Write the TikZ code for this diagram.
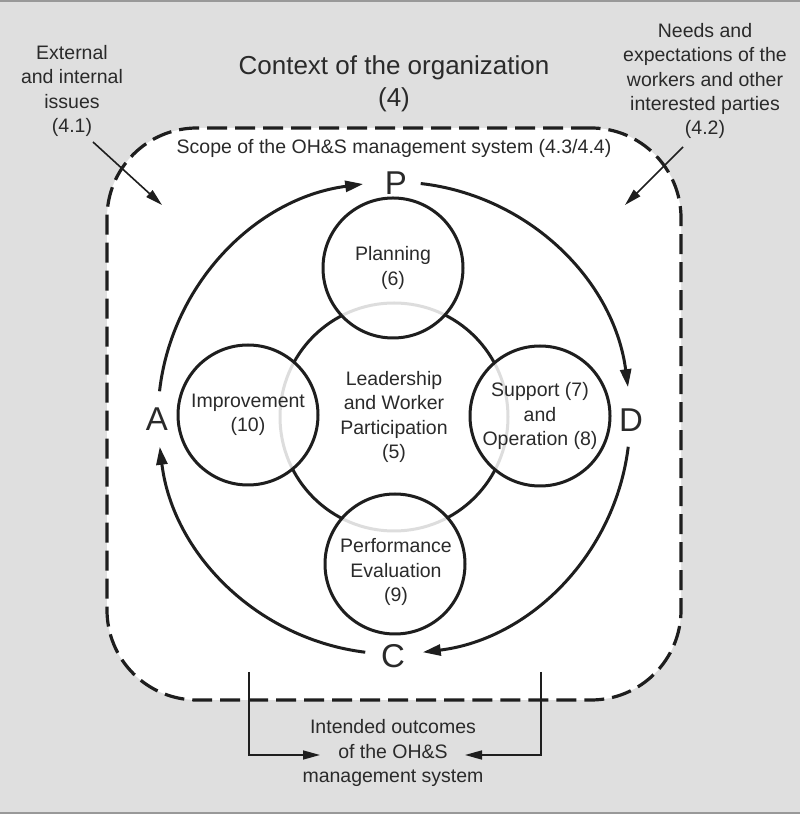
\documentclass[tikz,border=0pt]{standalone}
\usepackage{fontspec}
\setmainfont{Liberation Sans}
\usetikzlibrary{arrows.meta,calc}
\definecolor{bgc}{HTML}{DFDFDF}
\definecolor{ink}{HTML}{1E1E1E}
\definecolor{txt}{HTML}{2A2A2A}
\newcommand{\fsmall}{\fontsize{19.5pt}{24.3pt}\selectfont}
\newcommand{\ftitle}{\fontsize{26pt}{32pt}\selectfont}
\newcommand{\fletter}{\fontsize{33pt}{36pt}\selectfont}
\begin{document}
\begin{tikzpicture}[x=1pt,y=1pt,
  label/.style={align=center, font=\fsmall, text=txt, inner sep=0pt},
  smallc/.style={circle, draw=ink, line width=3pt, fill=white, fill opacity=0.85, text opacity=1,
                 draw opacity=1, minimum size=140pt, inner sep=0pt, align=center, font=\fsmall, text=txt},
  centc/.style={circle, draw=ink, line width=3pt, minimum size=228pt, inner sep=0pt, align=center,
                font=\fsmall, text=txt},
  scopebox/.style={rectangle, draw=ink, fill=white, line width=3.2pt, dash pattern=on 20pt off 8pt,
                   rounded corners=90pt, minimum width=574pt, minimum height=572pt, inner sep=0pt},
  letter/.style={font=\fletter, text=txt, inner sep=0pt},
  bigarc/.style={draw=ink, line width=3pt, -{Triangle[length=18pt,width=11pt]}},
  plainarc/.style={draw=ink, line width=3pt},
  thin/.style={draw=ink, line width=1.6pt, -{Triangle[length=17pt,width=9pt]}}
]
% background
\fill[bgc] (0,0) rectangle (800,814);
\useasboundingbox (0,0) rectangle (800,814);
\draw[gray!80, line width=2pt] (0,813) -- (800,813);
\draw[gray!80, line width=2pt] (0,1) -- (800,1);

% scope box
\node[scopebox] (scope) at (394,400) {};
\node[label] (scopetext) at (394,666) {Scope of the OH\&S management system (4.3/4.4)};

% title and outer labels
\node[align=center, font=\ftitle, text=txt, inner sep=0pt] (title) at (394,730.5) {Context of the organization\\(4)};
\node[label] (ext) at (72,723) {External\\and internal\\issues\\(4.1)};
\node[label] (needs) at (705,733) {Needs and\\expectations of the\\workers and other\\interested parties\\(4.2)};

\coordinate (extA) at (93,672);
\coordinate (extB) at (162,609);
\coordinate (needA) at (683,667);
\coordinate (needB) at (625,609);
\draw[thin] (extA) -- (extB);
\draw[thin] (needA) -- (needB);

% central circle and satellites
\coordinate (O) at (394,396);
\node[centc] (lead) at (394,397) {Leadership\\and Worker\\Participation\\(5)};
\node[smallc] (plan) at (393,546) {Planning\\(6)};
\node[smallc] (impr) at (248,399) {Improvement\\(10)};
\node[smallc] (supp) at (540,398) {Support (7)\\and\\Operation (8)};
\node[smallc] (perf) at (395,250) {};
\node[label] (perftext) at (396,242) {Performance\\Evaluation\\(9)};

% PDCA letters
\node[letter] (P) at (396,631) {P};
\node[letter] (D) at (631,394) {D};
\node[letter] (C) at (393,158) {C};
\node[letter] (A) at (157,395) {A};

% PDCA arcs
\draw[bigarc] ($(O)+(173.5:236)$) arc[start angle=173.5, end angle=97.5, radius=236];
\draw[bigarc] ($(O)+(83.5:236)$) arc[start angle=83.5, end angle=7.5, radius=236];
\draw[bigarc] ($(O)+(-7:236)$) arc[start angle=-7, end angle=-83, radius=236];
\draw[bigarc] ($(O)+(-97:236)$) arc[start angle=-97, end angle=-173, radius=236];

% intended outcomes
\node[label] (outc) at (393,61) {Intended outcomes\\of the OH\&S\\management system};
\coordinate (bl1) at (249,142);
\coordinate (bl2) at (249,59);
\coordinate (bl3) at (320,59);
\coordinate (br1) at (541,142);
\coordinate (br2) at (541,59);
\coordinate (br3) at (465,59);
\draw[thin] (bl1) -- (bl2) -- (bl3);
\draw[thin] (br1) -- (br2) -- (br3);
\end{tikzpicture}
\end{document}
